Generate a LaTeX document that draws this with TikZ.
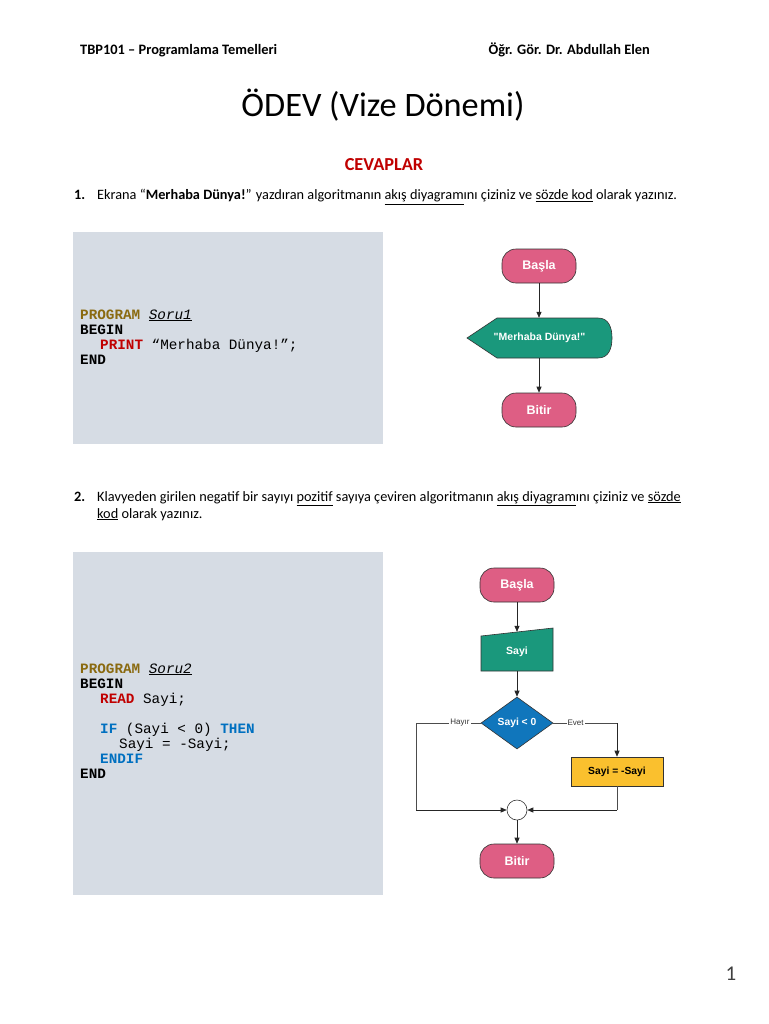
\documentclass[tikz,border=0pt]{standalone}
\usepackage{fontspec}
\setmainfont{Carlito}
\setmonofont{Liberation Mono}
\newfontfamily\fcfont{Liberation Sans}
\usetikzlibrary{arrows.meta,shapes.geometric,calc}
\definecolor{boxgray}{RGB}{214,220,228}
\definecolor{kwgold}{RGB}{138,106,16}
\definecolor{kwred}{RGB}{192,0,0}
\definecolor{kwblue}{RGB}{0,112,192}
\definecolor{fpink}{RGB}{222,94,132}
\definecolor{fgreen}{RGB}{26,152,124}
\definecolor{fblue}{RGB}{16,118,188}
\definecolor{fyellow}{RGB}{250,192,46}
\definecolor{cevred}{RGB}{192,0,0}
\newcommand{\fsz}[1]{\fontsize{#1}{#1}\selectfont}
\newcommand{\myul}[1]{\underline{#1}}
\begin{document}
\begin{tikzpicture}[x=1pt,y=-1pt,
  txt/.style={inner sep=0pt, anchor=base west},
  code/.style={inner sep=0pt, anchor=base west, font=\ttfamily\fsz{14.3}},
  term/.style={draw=black!80, line width=0.6pt, fill=fpink, rounded corners=14pt, minimum width=74pt, minimum height=34pt, inner sep=0pt, text=white, font=\fcfont\bfseries\fsz{12.5}},
  fctext/.style={inner sep=0pt, text=white, font=\fcfont\bfseries\fsz{10.5}},
  dec/.style={diamond, draw=black!80, line width=0.6pt, fill=fblue, minimum width=72pt, minimum height=52pt, inner sep=0pt, aspect=1.4, text=white, font=\fcfont\bfseries\fsz{10.3}},
  procbox/.style={draw=black!80, line width=0.6pt, fill=fyellow, minimum width=92pt, minimum height=29pt, inner sep=0pt, font=\fcfont\bfseries\fsz{10.3}},
  joinc/.style={circle, draw=black!80, line width=0.6pt, fill=white, minimum size=20pt, inner sep=0pt},
  shp/.style={draw=black!80, line width=0.6pt},
  conn/.style={draw=black!85, line width=0.7pt, -{Triangle[length=6pt,width=5pt]}},
  line/.style={draw=black!70, line width=0.7pt},
  lbl/.style={fill=white, inner sep=1pt, font=\fcfont\fsz{8}, text=black!80}
]
\useasboundingbox[fill=white] (0,0) rectangle (768,1024);

% header
\node[txt] (h1) at (80,55) {\bfseries\fsz{14.4}TBP101 – Programlama Temelleri};
\node[inner sep=0pt, anchor=base east] (h2) at (650,55) {\bfseries\fsz{14.4}Öğr. Gör. Dr. Abdullah Elen};
\node[inner sep=0pt, anchor=base] (title) at (383,117) {\fsz{34.3}ÖDEV (Vize Dönemi)};
\node[inner sep=0pt, anchor=base] (cev) at (384,171) {\bfseries\fsz{18.3}\color{cevred}CEVAPLAR};

% question 1
\node[txt] (q1n) at (74,200) {\bfseries\fsz{14.3}1.};
\node[txt] (q1) at (97,200) {\fsz{14.3}Ekrana “\textbf{Merhaba Dünya!}” yazdıran algoritmanın \myul{akış diyagram}ını çiziniz ve \myul{sözde kod} olarak yazınız.};

% code box 1
\fill[boxgray] (73,232) rectangle (383,444);
\node[code] (c11) at (80,319) {\textbf{\color{kwgold}PROGRAM} \textit{\myul{Soru1}}};
\node[code] (c12) at (80,334) {\textbf{BEGIN}};
\node[code] (c13) at (100,349) {\textbf{\color{kwred}PRINT} “Merhaba Dünya!”;};
\node[code] (c14) at (80,364) {\textbf{END}};

% flowchart 1
\node[term] (b1) at (539,266) {Başla};
\fill[fgreen] (467,338) -- (497,318) -- (598,318) .. controls (609,318) and (612,328) .. (612,338) .. controls (612,348) and (609,358) .. (598,358) -- (497,358) -- cycle;
\draw[shp] (467,338) -- (497,318) -- (598,318) .. controls (609,318) and (612,328) .. (612,338) .. controls (612,348) and (609,358) .. (598,358) -- (497,358) -- cycle;
\node[fctext, minimum width=145pt, minimum height=40pt] (out) at (539.5,338) {"Merhaba Dünya!"};
\node[term] (e1) at (539,410) {Bitir};
\draw[conn] (b1) -- (b1 |- out.north);
\draw[conn] (b1 |- out.south) -- (e1);

% question 2
\node[txt] (q2n) at (74,501) {\bfseries\fsz{14.3}2.};
\node[txt] (q2a) at (97,501) {\fsz{14.3}Klavyeden girilen negatif bir sayıyı \myul{pozitif} sayıya çeviren algoritmanın \myul{akış diyagram}ını çiziniz ve \myul{sözde}};
\node[txt] (q2b) at (97,518) {\fsz{14.3}\myul{kod} olarak yazınız.};

% code box 2
\fill[boxgray] (73,552) rectangle (383,895);
\node[code] (c21) at (80,673) {\textbf{\color{kwgold}PROGRAM} \textit{\myul{Soru2}}};
\node[code] (c22) at (80,688) {\textbf{BEGIN}};
\node[code] (c23) at (100,703) {\textbf{\color{kwred}READ} Sayi;};
\node[code] (c24) at (100,733) {\textbf{\color{kwblue}IF} (Sayi < 0) \textbf{\color{kwblue}THEN}};
\node[code] (c25) at (119,748) {Sayi = -Sayi;};
\node[code] (c26) at (100,763) {\textbf{\color{kwblue}ENDIF}};
\node[code] (c27) at (80,778) {\textbf{END}};

% flowchart 2
\node[term] (b2) at (517,585) {Başla};
\fill[fgreen] (481,636) -- (553,628) -- (553,671) -- (481,671) -- cycle;
\draw[shp] (481,636) -- (553,628) -- (553,671) -- (481,671) -- cycle;
\node[fctext, minimum width=72pt, minimum height=39pt] (in) at (517,651.5) {Sayi};
\node[dec] (d) at (517,723) {Sayi < 0};
\node[procbox] (p) at (617,771.5) {Sayi = -Sayi};
\node[joinc] (j) at (517,810) {};
\node[term] (e2) at (517,861) {Bitir};
\coordinate (lt) at (416,723);
\coordinate (rt) at (617,723);
\coordinate (rb) at (617,810);
\coordinate (lb) at (416,810);
\draw[conn] (b2) -- (in.north);
\draw[conn] (in.south) -- (d.north);
\draw[line] (d.west) -- node[lbl, pos=0.32] {Hayır} (lt) -- (lb);
\draw[conn] (lb) -- (j.west);
\draw[line] (d.east) -- node[lbl, pos=0.35] {Evet} (rt);
\draw[conn] (rt) -- (p.north);
\draw[line] (p.south) -- (rb);
\draw[conn] (rb) -- (j.east);
\draw[conn] (j.south) -- (e2.north);

% page number
\node[inner sep=0pt, anchor=base] (pg) at (731,980) {\fsz{21}\color{black!75}1};
\end{tikzpicture}
\end{document}
